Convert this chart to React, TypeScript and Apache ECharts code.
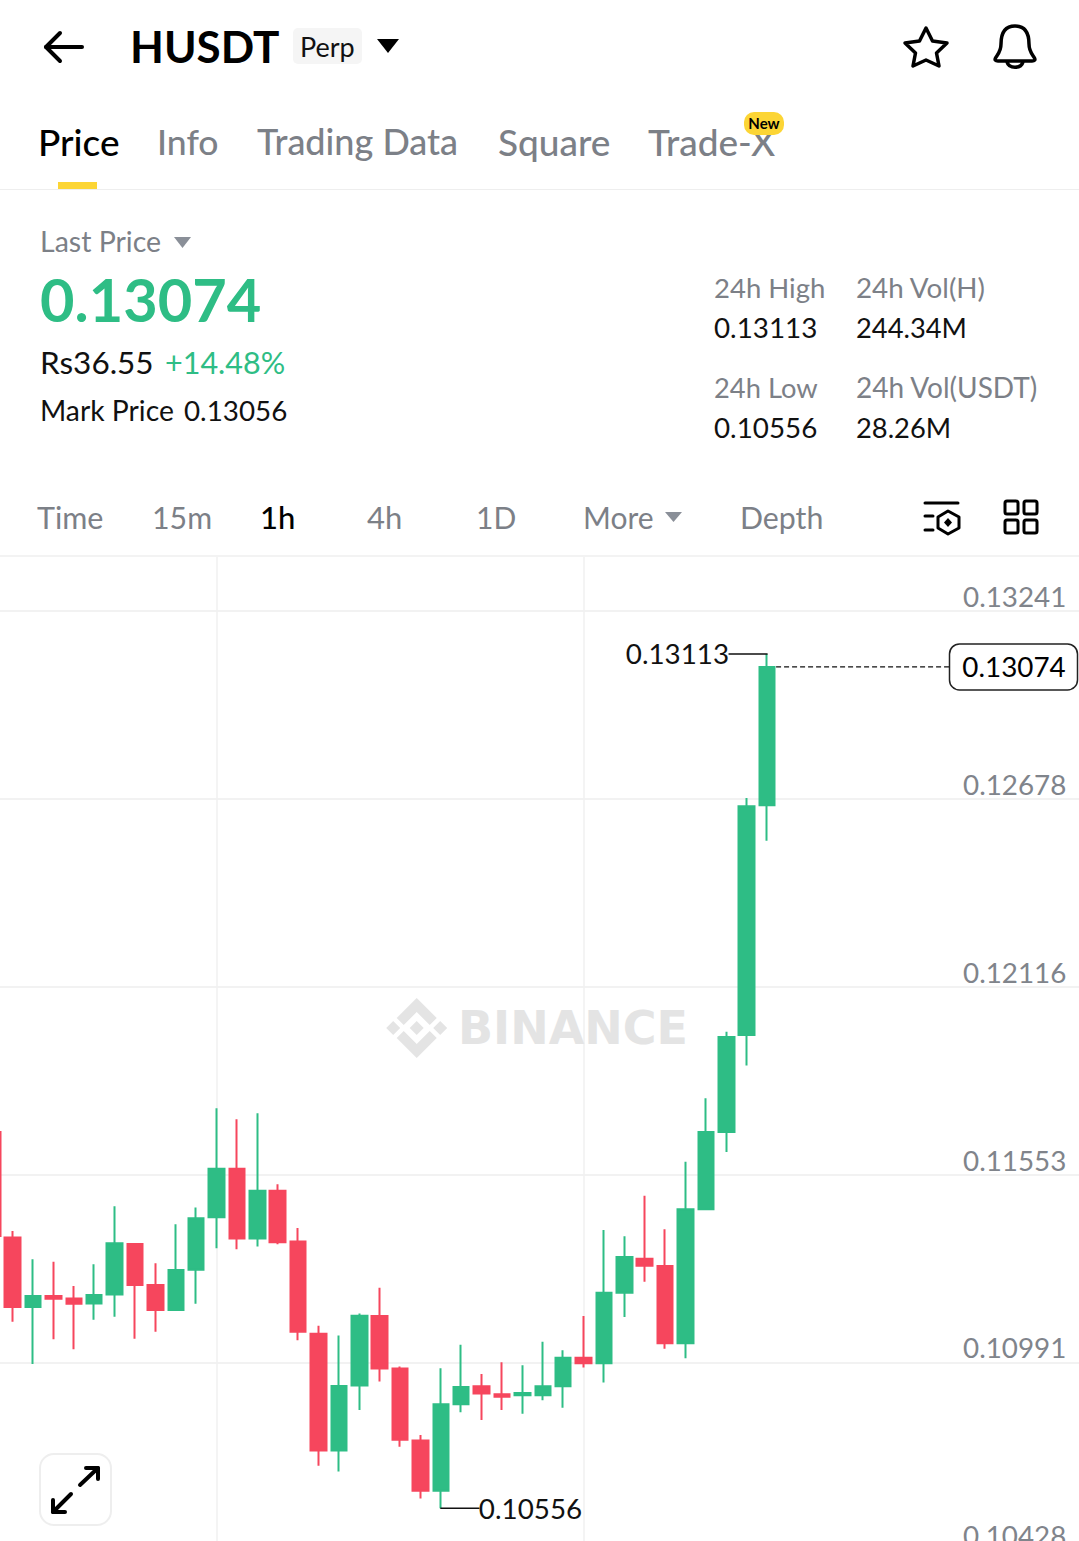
import React, { useEffect, useRef } from "react";
import * as echarts from "echarts";

const GREEN = "#2EBD85";
const RED = "#F6465D";
const GRAY = "#7c8087";
const FONT = "Lato";

// [open, close] follow the candle direction; index 0 is cut by the left page edge
const opens = [
  0.11682, 0.11366, 0.11158, 0.11191, 0.11184, 0.11169, 0.11196, 0.11347, 0.11224, 0.11149,
  0.1127, 0.11427, 0.11572, 0.11363, 0.11506, 0.11354, 0.11078, 0.10729, 0.10923, 0.11131,
  0.10974, 0.10759, 0.10608, 0.10867, 0.10921, 0.10897, 0.10894, 0.10894, 0.10921, 0.11006,
  0.1099, 0.11201, 0.11303, 0.11281, 0.1105, 0.11451, 0.11682, 0.11972, 0.1266,
];
const closes = [
  0.11371, 0.11158, 0.11191, 0.11183, 0.11168, 0.11194, 0.11349, 0.11224, 0.11149, 0.11269,
  0.11424, 0.11572, 0.11363, 0.11506, 0.11352, 0.11084, 0.10729, 0.10922, 0.11132, 0.10974,
  0.10761, 0.10608, 0.10867, 0.10919, 0.10899, 0.1089, 0.10901, 0.10921, 0.11006, 0.1099,
  0.11201, 0.11308, 0.11282, 0.1105, 0.11451, 0.11682, 0.11966, 0.12657, 0.13074,
];
const lows = [
  0.11359, 0.11114, 0.10988, 0.11062, 0.11032, 0.1112, 0.11129, 0.11063, 0.11084, 0.11148,
  0.11168, 0.11334, 0.11331, 0.11339, 0.11346, 0.11059, 0.10683, 0.10666, 0.1085, 0.10935,
  0.1074, 0.10585, 0.10556, 0.10843, 0.1082, 0.1085, 0.10839, 0.10879, 0.10857, 0.10977,
  0.10932, 0.11128, 0.11234, 0.11033, 0.11005, 0.11448, 0.11622, 0.11881, 0.12554,
];
const highs = [
  0.11718, 0.11386, 0.11301, 0.11294, 0.11221, 0.11286, 0.1146, 0.11349, 0.11289, 0.11406,
  0.11456, 0.11753, 0.1172, 0.11738, 0.11526, 0.11395, 0.11102, 0.11073, 0.11139, 0.11216,
  0.1098, 0.10775, 0.10975, 0.11045, 0.10958, 0.10993, 0.10984, 0.11054, 0.11029, 0.11131,
  0.11389, 0.1137, 0.11491, 0.11391, 0.11593, 0.11783, 0.11982, 0.12682, 0.13113,
];
const priceTicks = [0.13241, 0.12678, 0.12116, 0.11553, 0.10991, 0.10428];
const SLOT_COUNT = 55;
const verticalGridSlots = [11, 29];
const lastPrice = 0.13074;
const highLabel = 0.13113;
const lowLabel = 0.10556;
const highIndex = 38;
const lowIndex = 22;

const text = (x: number, y: number, s: string, size: number, fill: string, weight: any = 400, align = "left", z = 10, family = FONT) => ({
  type: "text",
  x,
  y,
  z,
  style: { text: s, fontSize: size, fontFamily: family, fontWeight: weight, fill, align, verticalAlign: "middle" },
});
const stroke = (color = "#000", lineWidth = 4) => ({ stroke: color, lineWidth, fill: "none", lineCap: "round", lineJoin: "round" });
const poly = (points: number[][], color = "#000", lineWidth = 4, z = 10) => ({
  type: "polyline",
  z,
  shape: { points },
  style: stroke(color, lineWidth),
});
const filled = (points: number[][], fill: string, z = 10) => ({ type: "polygon", z, shape: { points }, style: { fill } });
const box = (x: number, y: number, width: number, height: number, r: number, style: any, z = 10) => ({
  type: "rect",
  z,
  shape: { x, y, width, height, r },
  style,
});

echarts.graphic.registerShape(
  "bellIcon",
  echarts.graphic.extendPath(
    "M1015 26C1004 26 1001 35 1001 44C1001 52 997 55 995.5 58Q994 61 998 61L1032 61Q1036 61 1034.5 58C1033 55 1029 52 1029 44C1029 35 1026 26 1015 26ZM1007 62C1009 69 1021 69 1023 62",
    {}
  )
);

function chrome() {
  const wm = 416.7;
  const wy = 1028;
  const diamond = (cx: number, cy: number, h: number) =>
    filled([[cx, cy - h], [cx + h, cy], [cx, cy + h], [cx - h, cy]], "#e4e4e4", 0);
  return [
    // header
    poly([[82, 47], [46, 47]]),
    poly([[60, 33], [46, 47], [60, 61]]),
    text(130, 46, "HUSDT", 44, "#000", 700),
    box(293, 28, 69, 36, 5, { fill: "#f5f5f5" }),
    text(300, 46, "Perp", 27, "#111"),
    filled([[377, 39], [399, 39], [388, 53]], "#000"),
    {
      type: "polygon",
      z: 10,
      shape: {
        points: [[926, 28], [932.5, 41], [947, 43], [936.5, 53], [939, 66], [926, 60], [913, 66], [915.5, 53], [905, 43], [919.5, 41]],
      },
      style: stroke("#000", 3.5),
    },
    { type: "bellIcon", z: 10, style: stroke("#000", 3.5) },
    // tabs
    text(38, 141, "Price", 37, "#000", 500),
    text(157, 141, "Info", 35.5, GRAY, 500),
    text(257, 141, "Trading Data", 36, GRAY, 500),
    text(498, 141, "Square", 37, GRAY, 500),
    text(648, 141, "Trade-X", 37, GRAY, 500),
    box(744, 112, 40, 23, 10, { fill: "#FCD535" }),
    text(764, 123, "New", 15, "#000", 700, "center"),
    box(58, 182, 39, 7, 0, { fill: "#FCD535" }),
    box(0, 189, 1079, 1, 0, { fill: "#eeeeee" }),
    // price block
    text(40, 241, "Last Price", 28.5, GRAY),
    filled([[174, 237], [191, 237], [182.5, 248]], "#8a8f98"),
    text(40, 299, "0.13074", 59.5, GREEN, 700),
    text(40, 362, "Rs36.55", 31.5, "#111"),
    text(165, 362, "+14.48%", 30.5, GREEN),
    text(40, 410, "Mark Price", 28.3, "#111"),
    text(184, 410, "0.13056", 27.8, "#111"),
    text(714, 287, "24h High", 27.5, GRAY),
    text(856, 287, "24h Vol(H)", 27.8, GRAY),
    text(714, 327, "0.13113", 27.8, "#111"),
    text(856, 327, "244.34M", 27.3, "#111"),
    text(714, 387, "24h Low", 27.3, GRAY),
    text(856, 387, "24h Vol(USDT)", 28, GRAY),
    text(714, 427, "0.10556", 27.8, "#111"),
    text(856, 427, "28.26M", 27.3, "#111"),
    // interval row
    text(37, 517, "Time", 30.5, GRAY),
    text(152, 517, "15m", 30.3, GRAY),
    text(260, 517, "1h", 31, "#000", 500),
    text(367, 517, "4h", 31, GRAY),
    text(476, 517, "1D", 30, GRAY),
    text(583, 517, "More", 30, GRAY),
    filled([[665, 512], [682, 512], [673.5, 522]], "#8a8f98"),
    text(740, 517, "Depth", 30.3, GRAY),
    poly([[925, 503], [958, 503]], "#000", 3),
    poly([[925, 516], [933, 516]], "#000", 3),
    poly([[925, 530], [933, 530]], "#000", 3),
    {
      type: "polygon",
      z: 10,
      shape: { points: [[948, 511], [959, 517], [959, 528], [948, 534], [938, 528], [938, 517]] },
      style: stroke("#000", 3),
    },
    filled([[948, 518], [952, 522.5], [948, 527], [944, 522.5]], "#000"),
    box(1005, 501, 13, 13, 2, stroke("#000", 3)),
    box(1024, 501, 13, 13, 2, stroke("#000", 3)),
    box(1005, 520, 13, 13, 2, stroke("#000", 3)),
    box(1024, 520, 13, 13, 2, stroke("#000", 3)),
    box(0, 555, 1079, 2, 0, { fill: "#f3f3f3" }),
    // watermark
    filled([[wm, wy - 30], [wm + 20, wy - 10], [wm + 13, wy - 3], [wm, wy - 16], [wm - 13, wy - 3], [wm - 20, wy - 10]], "#e4e4e4", 0),
    filled([[wm, wy + 30], [wm + 20, wy + 10], [wm + 13, wy + 3], [wm, wy + 16], [wm - 13, wy + 3], [wm - 20, wy + 10]], "#e4e4e4", 0),
    diamond(wm, wy, 7),
    diamond(wm - 23.5, wy, 7),
    diamond(wm + 23.5, wy, 7),
    text(458, 1028, "BINANCE", 46, "#e4e4e4", 700, "left", 0, "DejaVu Sans"),
    // expand button
    box(40, 1454, 71, 71, 14, { fill: "#fff", stroke: "#eeeeee", lineWidth: 2 }),
    poly([[80, 1485], [98, 1468]]),
    poly([[86, 1468], [98, 1468], [98, 1479]]),
    poly([[71, 1494], [53, 1512]]),
    poly([[53, 1500], [53, 1512], [65, 1512]]),
  ];
}

export default function App() {
  const ref = useRef<HTMLDivElement>(null);
  useEffect(() => {
    document.body.style.margin = "0";
    const chart = echarts.init(ref.current!, undefined, { renderer: "svg" });
    chart.setOption({
      animation: false,
      backgroundColor: "#fff",
      grid: { left: -7.7, top: 557, width: 1101, height: 1000, outerBoundsMode: "none", containLabel: false },
      xAxis: {
        type: "category",
        boundaryGap: false,
        data: Array.from({ length: SLOT_COUNT }, (_, i) => String(i)),
        axisLine: { show: false },
        axisTick: { show: false },
        axisLabel: { show: false },
        splitLine: {
          show: true,
          interval: (i: number) => verticalGridSlots.includes(i),
          lineStyle: { color: "#f0f0f0", width: 1.5 },
        },
      },
      yAxis: {
        type: "value",
        position: "right",
        min: 0.1041,
        max: 0.13403,
        axisLine: { show: false },
        axisTick: { show: false, customValues: priceTicks },
        splitLine: { show: true, lineStyle: { color: "#eeeeee", width: 1.5 } },
        axisLabel: {
          inside: true,
          customValues: priceTicks,
          formatter: (v: number) => v.toFixed(5),
          margin: 27,
          verticalAlignMinLabel: "bottom",
          verticalAlignMaxLabel: "bottom",
          verticalAlign: "bottom",
          color: "#80848b",
          fontSize: 27.8,
          fontFamily: FONT,
          padding: [0, 0, 1, 0],
        },
      },
      series: [
        {
          type: "candlestick",
          clip: false,
          barWidth: 16,
          data: opens.map((o, i) => [o, closes[i], lows[i], highs[i]]),
          itemStyle: { color: GREEN, color0: RED, borderColor: GREEN, borderColor0: RED, borderWidth: 2 },
        },
      ],
    });

    const px = (i: number, v: number) => chart.convertToPixel({ gridIndex: 0 }, [i, v]) as number[];
    const [hx, hy] = px(highIndex, highLabel);
    const [lx, ly] = px(lowIndex, lowLabel);
    const [cx, cy] = px(highIndex, lastPrice);
    chart.setOption({
      graphic: {
        elements: [
          ...chrome(),
          poly([[hx, hy], [hx - 38, hy]], "#111", 1.5, 10),
          text(hx - 38, hy, highLabel.toFixed(5), 27.8, "#111", 400, "right"),
          poly([[lx, ly], [lx + 38, ly]], "#111", 1.5, 10),
          text(lx + 38, ly, lowLabel.toFixed(5), 27.8, "#111"),
          {
            type: "line",
            z: 10,
            shape: { x1: cx + 9, y1: cy, x2: 949, y2: cy },
            style: { stroke: "#111", lineWidth: 1.2, lineDash: [5, 3] },
          },
          box(949.5, cy - 23, 128, 46, 10, { fill: "#fff", stroke: "#222", lineWidth: 1.5 }),
          text(1014, cy, lastPrice.toFixed(5), 27.8, "#000", 400, "center"),
        ],
      },
    });
    return () => chart.dispose();
  }, []);
  return <div ref={ref} style={{ width: 1079, height: 1541, overflow: "hidden" }} />;
}
